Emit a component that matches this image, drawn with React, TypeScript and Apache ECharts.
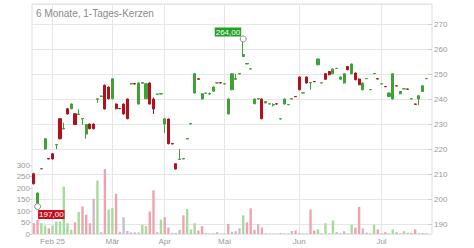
import React, { useEffect, useRef } from 'react';
import * as echarts from 'echarts';

const monthLabels = ['Jan', 'Feb 25', 'Mär', 'Apr', 'Mai', 'Jun', 'Jul'];
const monthDayCounts = [5, 16, 14, 16, 20, 22, 14];

const opens = [
  210.1, 197.8, 212.0, 220.0, 216.2, 218.1, 221.6, 232.1, 228.0, 236.1,
  236.1, 234.1, 233.8, 232.0, 226.0, 230.0, 230.0, 239.9, 241.0, 245.5,
  244.8, 240.1, 238.0, 236.2, 238.0, 240.0, 246.0, 246.2, 238.0, 246.3,
  240.1, 246.4, 240.0, 241.9, 242.0, 230.0, 232.0, 222.2, 214.1, 215.8,
  216.0, 224.0, 230.0, 242.4, 248.1, 240.0, 242.3, 242.0, 243.1, 246.4,
  246.5, 246.0, 234.0, 243.7, 247.9, 250.0, 257.0, 254.0, 252.0, 238.1,
  240.0, 240.0, 238.4, 238.0, 237.6, 238.1, 232.0, 238.0, 237.7, 240.0,
  241.0, 248.8, 242.4, 248.8, 246.4, 247.0, 253.7, 246.4, 250.1, 251.0,
  250.1, 252.2, 247.9, 246.4, 253.0, 250.1, 250.4, 248.0, 243.7, 248.1,
  243.7, 250.1, 248.1, 246.0, 245.0, 241.0, 240.0, 245.3, 242.1, 244.0,
  244.0, 240.0, 238.0, 240.0, 243.0, 248.1,
];
const closes = [
  206.1, 202.4, 212.2, 224.1, 216.0, 216.0, 221.8, 224.1, 228.3, 234.0,
  238.0, 229.8, 234.0, 232.2, 229.8, 228.1, 228.1, 240.1, 241.2, 236.0,
  240.1, 248.1, 236.1, 236.1, 234.0, 232.1, 246.2, 246.0, 246.4, 246.6,
  246.1, 238.0, 236.0, 242.0, 242.2, 232.1, 222.1, 222.0, 212.0, 216.0,
  216.2, 224.2, 230.2, 250.1, 247.9, 242.1, 242.4, 242.2, 244.8, 246.5,
  246.4, 246.1, 240.0, 250.1, 248.2, 250.2, 257.8, 254.2, 252.1, 240.0,
  240.1, 232.1, 239.0, 238.1, 237.8, 238.0, 232.1, 240.0, 237.8, 240.1,
  240.9, 243.7, 242.5, 246.4, 246.6, 246.9, 256.0, 246.5, 247.9, 249.7,
  252.0, 252.3, 248.8, 250.1, 251.7, 254.0, 247.7, 245.7, 246.4, 248.2,
  243.8, 250.2, 248.0, 246.1, 244.9, 242.4, 250.1, 245.2, 243.0, 244.1,
  243.9, 240.1, 237.9, 241.3, 245.3, 248.2,
];
const lows = [
  205.8, 197.0, 211.8, 219.8, 215.9, 215.8, 220.0, 223.8, 227.9, 233.8,
  235.9, 229.6, 233.7, 229.7, 224.1, 227.9, 227.9, 238.4, 240.8, 235.8,
  239.8, 239.9, 235.9, 236.0, 233.8, 231.9, 245.8, 245.8, 237.8, 246.1,
  239.9, 237.8, 234.0, 241.8, 241.9, 226.4, 221.9, 221.9, 211.8, 215.6,
  215.9, 223.9, 229.9, 242.2, 247.8, 239.8, 242.2, 241.6, 243.0, 246.3,
  246.3, 245.9, 233.8, 243.5, 247.8, 249.9, 256.8, 253.9, 251.9, 237.9,
  239.9, 231.9, 238.3, 237.9, 237.0, 237.9, 231.9, 237.8, 237.6, 239.9,
  240.8, 243.5, 242.3, 246.2, 243.7, 246.8, 253.5, 246.3, 247.7, 249.5,
  249.9, 252.1, 247.7, 246.2, 251.5, 249.9, 247.5, 245.5, 243.5, 248.0,
  243.6, 250.0, 247.9, 245.9, 244.8, 240.8, 239.8, 245.1, 241.9, 243.9,
  243.8, 239.9, 237.8, 237.5, 242.8, 248.0,
];
const highs = [
  210.5, 202.6, 212.3, 224.3, 216.4, 218.3, 221.9, 232.4, 230.5, 236.3,
  238.2, 234.3, 235.9, 232.3, 230.0, 230.2, 230.2, 240.2, 241.4, 245.8,
  245.0, 248.3, 238.2, 236.4, 238.2, 240.2, 246.4, 246.4, 246.6, 246.8,
  246.3, 246.6, 240.6, 242.2, 242.3, 232.3, 232.2, 222.3, 214.3, 220.0,
  216.3, 224.3, 230.3, 250.3, 248.2, 242.3, 242.5, 242.6, 245.0, 246.6,
  246.6, 246.2, 240.2, 250.3, 250.1, 250.3, 264.0, 254.3, 252.2, 240.2,
  240.2, 240.2, 239.2, 238.2, 238.3, 238.2, 232.2, 240.2, 237.9, 240.2,
  241.1, 249.0, 242.6, 249.0, 246.7, 247.1, 256.2, 246.6, 250.3, 251.2,
  252.2, 252.4, 249.0, 250.3, 253.2, 254.2, 250.6, 248.2, 246.6, 248.3,
  243.9, 250.3, 248.2, 246.2, 245.1, 242.6, 250.3, 245.4, 243.2, 244.2,
  244.1, 240.2, 238.1, 241.5, 245.5, 248.3,
];
const volumes = [
  47, 62, 47, 37, 25, 37, 54, 54, 206, 47,
  18, 51, 96, 120, 84, 47, 153, 232, 8, 282,
  106, 112, 175, 10, 73, 13, 7, 7, 7, 40,
  35, 98, 190, 8, 62, 73, 28, 5, 5, 18,
  81, 109, 20, 47, 15, 35, 4, 2, 3, 8,
  2, 2, 44, 10, 12, 25, 81, 51, 112, 18,
  43, 28, 3, 2, 2, 2, 4, 2, 2, 13,
  15, 5, 2, 3, 106, 15, 20, 3, 47, 3,
  59, 8, 3, 12, 3, 40, 28, 118, 25, 6,
  3, 40, 20, 3, 8, 3, 20, 8, 3, 12,
  5, 5, 20, 4, 4, 3,
];
// u = up (green), d = down (red), n = unchanged (grey)
const volumeDirs = [
  'd', 'd', 'u', 'u', 'd', 'u', 'u', 'u', 'u', 'u',
  'u', 'd', 'u', 'd', 'd', 'd', 'n', 'u', 'n', 'd',
  'u', 'u', 'd', 'n', 'n', 'n', 'n', 'n', 'n', 'u',
  'u', 'd', 'd', 'n', 'u', 'd', 'd', 'n', 'n', 'n',
  'd', 'u', 'u', 'u', 'd', 'd', 'n', 'n', 'n', 'n',
  'n', 'n', 'd', 'n', 'n', 'n', 'u', 'd', 'd', 'd',
  'n', 'd', 'n', 'n', 'n', 'n', 'n', 'n', 'n', 'n',
  'd', 'n', 'n', 'n', 'd', 'd', 'u', 'n', 'u', 'n',
  'u', 'n', 'n', 'n', 'n', 'u', 'd', 'd', 'n', 'n',
  'n', 'u', 'd', 'n', 'd', 'n', 'u', 'n', 'n', 'u',
  'n', 'n', 'd', 'n', 'n', 'n',
];

const UP = '#3ea334';
const DOWN = '#b2101e';
const VOL_COLORS: Record<string, string> = { u: '#a6da9e', d: '#eea4af', n: '#c9bdc7' };
const GRID_COLOR = '#e6e6e6';
const TEXT_COLOR = '#9a9a9a';
const FONT = 'Liberation Sans, Arial, sans-serif';

const fmt = (v: number) => v.toFixed(2).replace('.', ',');

export default function App() {
  const ref = useRef<HTMLDivElement>(null);

  useEffect(() => {
    if (!ref.current) return;
    const chart = echarts.init(ref.current, null, { renderer: 'svg' });

    const categories: string[] = [];
    const monthStart: Record<number, string> = {};
    monthLabels.forEach((m, mi) => {
      for (let k = 0; k < monthDayCounts[mi]; k++) {
        if (k === 0 && mi > 0) monthStart[categories.length] = m;
        categories.push(`${m}#${k}`);
      }
    });
    const startIdx = Object.keys(monthStart).map(Number);

    const candleData = opens.map((o, i) => [o, closes[i], lows[i], highs[i]]);
    const volData = volumes.map((v, i) => ({
      value: v,
      itemStyle: { color: VOL_COLORS[volumeDirs[i]] },
    }));

    let maxI = 0;
    let minI = 0;
    highs.forEach((h, i) => { if (h > highs[maxI]) maxI = i; });
    lows.forEach((l, i) => { if (l < lows[minI]) minI = i; });

    chart.setOption({
      animation: false,
      textStyle: { fontFamily: FONT },
      title: {
        text: '6 Monate, 1-Tages-Kerzen',
        left: 36,
        top: 8,
        padding: 0,
        textStyle: { fontSize: 10, color: '#8a8a8a', fontWeight: 'normal', fontFamily: FONT },
      },
      grid: [
        { left: 32, right: 42, top: 4, bottom: 14, show: true, borderColor: '#dedede', borderWidth: 1 },
        { left: 32, right: 42, top: 165, bottom: 14 },
      ],
      xAxis: [
        {
          type: 'category',
          gridIndex: 0,
          data: categories,
          boundaryGap: true,
          axisLine: { show: false },
          axisTick: { show: false },
          splitLine: { show: false },
          axisLabel: {
            interval: (idx: number) => monthStart[idx] !== undefined,
            formatter: (_v: string, idx: number) => monthStart[idx] || '',
            color: TEXT_COLOR,
            fontSize: 8,
            margin: 3,
            fontFamily: FONT,
          },
        },
        {
          type: 'category',
          gridIndex: 1,
          data: categories,
          boundaryGap: true,
          show: false,
        },
      ],
      yAxis: [
        {
          type: 'value',
          gridIndex: 0,
          position: 'right',
          min: 186,
          max: 278,
          splitNumber: 9,
          scale: true,
          axisLine: { show: false },
          axisTick: { show: true, inside: true, length: 4, lineStyle: { color: '#cfcfcf' } },
          splitLine: { show: true, lineStyle: { color: GRID_COLOR, width: 1 } },
          axisLabel: {
            showMinLabel: false,
            showMaxLabel: false,
            color: TEXT_COLOR,
            fontSize: 8,
            margin: 2,
            fontFamily: FONT,
          },
        },
        {
          type: 'value',
          gridIndex: 1,
          position: 'left',
          min: 0,
          max: 300,
          interval: 50,
          axisLine: { show: false },
          axisTick: { show: true, length: 2, lineStyle: { color: '#cfcfcf' } },
          splitLine: { show: false },
          axisLabel: { color: TEXT_COLOR, fontSize: 8, margin: 2, fontFamily: FONT },
        },
      ],
      series: [
        {
          type: 'bar',
          xAxisIndex: 1,
          yAxisIndex: 1,
          data: volData,
          barWidth: 2.4,
          z: 1,
        },
        {
          type: 'candlestick',
          xAxisIndex: 0,
          yAxisIndex: 0,
          data: candleData,
          barWidth: 2.6,
          z: 3,
          itemStyle: {
            color: UP,
            color0: DOWN,
            borderColor: UP,
            borderColor0: DOWN,
            borderWidth: 1,
          },
          markLine: {
            silent: true,
            symbol: ['none', 'none'],
            z: 1,
            label: { show: false },
            lineStyle: { color: GRID_COLOR, type: 'solid', width: 1 },
            data: startIdx.map((i) => ({ xAxis: i })),
          },
          markPoint: {
            silent: true,
            z: 10,
            data: [
              {
                coord: [maxI, highs[maxI]],
                symbol: 'circle',
                symbolSize: 6,
                itemStyle: { color: '#ffffff', borderColor: '#8a8a8a', borderWidth: 1 },
                label: {
                  show: true,
                  formatter: fmt(highs[maxI]),
                  position: [-25, -8],
                  backgroundColor: '#22a022',
                  color: '#ffffff',
                  fontSize: 8,
                  lineHeight: 9,
                  padding: [0, 1],
                  fontFamily: FONT,
                },
              },
              {
                coord: [minI, lows[minI]],
                symbol: 'circle',
                symbolSize: 6,
                itemStyle: { color: '#ffffff', borderColor: '#8a8a8a', borderWidth: 1 },
                label: {
                  show: true,
                  formatter: fmt(lows[minI]),
                  position: [4, 7],
                  backgroundColor: '#c4101e',
                  color: '#ffffff',
                  fontSize: 8,
                  lineHeight: 9,
                  padding: [0, 1],
                  fontFamily: FONT,
                },
              },
            ],
          },
        },
      ],
    });

    return () => chart.dispose();
  }, []);

  return (
    <div
      ref={ref}
      style={{ position: 'fixed', left: 0, top: 0, width: 474, height: 248, background: '#ffffff' }}
    />
  );
}
